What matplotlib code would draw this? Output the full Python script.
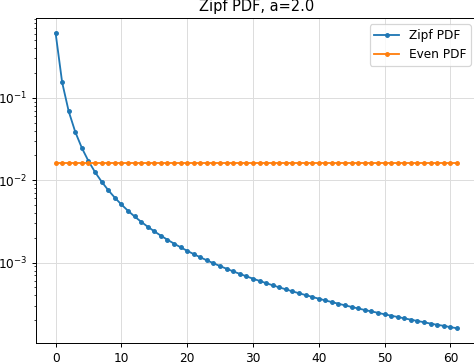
import matplotlib
matplotlib.use("Agg")
import matplotlib.pyplot as plt

# Zipf (a=2.0) vs uniform probabilities over 62 ranks
ranks = list(range(62))
zipf_pdf = [
    0.6139, 0.15348, 0.06821, 0.03837, 0.02456, 0.01705, 0.01253, 0.009592,
    0.007579, 0.006139, 0.005074, 0.004263, 0.003633, 0.003132, 0.002728,
    0.002398, 0.002124, 0.001895, 0.001701, 0.001535, 0.001392, 0.001268,
    0.001160, 0.001066, 0.000982, 0.000908, 0.000842, 0.000783, 0.000730,
    0.000682, 0.000639, 0.000600, 0.000564, 0.000531, 0.000501, 0.000474,
    0.000448, 0.000425, 0.000404, 0.000384, 0.000365, 0.000348, 0.000332,
    0.000317, 0.000303, 0.000290, 0.000278, 0.000266, 0.000256, 0.000246,
    0.000236, 0.000227, 0.000219, 0.000211, 0.000203, 0.000196, 0.000189,
    0.000182, 0.000176, 0.000171, 0.000165, 0.000160,
]
even_pdf = [
    0.0161, 0.0161, 0.0161, 0.0161, 0.0161, 0.0161, 0.0161, 0.0161, 0.0161,
    0.0161, 0.0161, 0.0161, 0.0161, 0.0161, 0.0161, 0.0161, 0.0161, 0.0161,
    0.0161, 0.0161, 0.0161, 0.0161, 0.0161, 0.0161, 0.0161, 0.0161, 0.0161,
    0.0161, 0.0161, 0.0161, 0.0161, 0.0161, 0.0161, 0.0161, 0.0161, 0.0161,
    0.0161, 0.0161, 0.0161, 0.0161, 0.0161, 0.0161, 0.0161, 0.0161, 0.0161,
    0.0161, 0.0161, 0.0161, 0.0161, 0.0161, 0.0161, 0.0161, 0.0161, 0.0161,
    0.0161, 0.0161, 0.0161, 0.0161, 0.0161, 0.0161, 0.0161, 0.0161,
]

# the reference looks like a default figure shrunk to ~88%
DPI = 87.7
fig = plt.figure(figsize=(474 / DPI, 363 / DPI), dpi=DPI)
ax = fig.add_axes([0.0749, 0.0551, 0.9314, 0.8953])

ax.plot(ranks, zipf_pdf, marker='.', label="Zipf PDF")
ax.plot(ranks, even_pdf, marker='.', label="Even PDF")
ax.set_yscale('log')
ax.set_title("Zipf PDF, a=2.0")
ax.grid(True, color='#dddddd')
ax.legend(loc='upper right')

fig.savefig("out.png", dpi=DPI)
